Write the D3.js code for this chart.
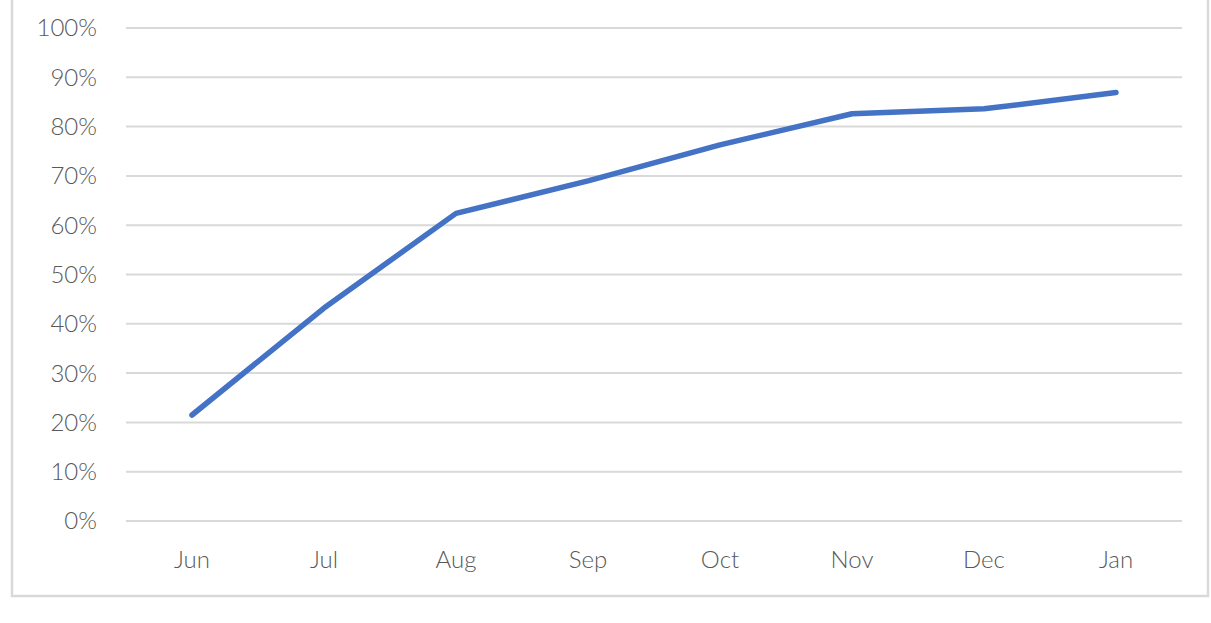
<!DOCTYPE html>
<html>
<head>
<meta charset="utf-8">
<script src="https://cdn.jsdelivr.net/npm/d3@7"></script>
<style>
  body { margin: 0; background: #fff; }
  text { font-family: Lato, "Open Sans", sans-serif; fill: #595959; font-weight: 300; }
</style>
</head>
<body>
<svg id="chart" width="1211" height="623"></svg>
<script>
const months = ["Jun", "Jul", "Aug", "Sep", "Oct", "Nov", "Dec", "Jan"];
const values = [0.215, 0.432, 0.624, 0.690, 0.763, 0.826, 0.836, 0.869];
const yTicks = [0, 0.1, 0.2, 0.3, 0.4, 0.5, 0.6, 0.7, 0.8, 0.9, 1.0];

const width = 1211;
const height = 623;
const margin = { top: 28, right: 29, bottom: 102, left: 126 };

const svg = d3.select("#chart");

// chart frame
svg.append("rect")
  .attr("x", 12)
  .attr("y", -10)
  .attr("width", 1196)
  .attr("height", 606)
  .attr("fill", "#fff")
  .attr("stroke", "#d9d9d9")
  .attr("stroke-width", 2.5);

const x = d3.scaleBand()
  .domain(months)
  .range([margin.left, width - margin.right]);

const y = d3.scaleLinear()
  .domain([0, 1])
  .range([height - margin.bottom, margin.top]);

// gridlines
svg.append("g")
  .selectAll("line")
  .data(yTicks)
  .join("line")
  .attr("x1", margin.left)
  .attr("x2", width - margin.right)
  .attr("y1", d => y(d))
  .attr("y2", d => y(d))
  .attr("stroke", "#d9d9d9")
  .attr("stroke-width", 2);

// y labels
svg.append("g")
  .selectAll("text")
  .data(yTicks)
  .join("text")
  .attr("x", 97)
  .attr("y", d => y(d))
  .attr("dy", "0.35em")
  .attr("text-anchor", "end")
  .attr("font-size", 24)
  .text(d => d3.format(".0%")(d));

// x labels
svg.append("g")
  .selectAll("text")
  .data(months)
  .join("text")
  .attr("x", d => x(d) + x.bandwidth() / 2)
  .attr("y", 560)
  .attr("dy", "0.35em")
  .attr("text-anchor", "middle")
  .attr("font-size", 24)
  .text(d => d);

// line
const line = d3.line()
  .x((d, i) => x(months[i]) + x.bandwidth() / 2)
  .y(d => y(d));

svg.append("path")
  .datum(values)
  .attr("d", line)
  .attr("fill", "none")
  .attr("stroke", "#4472c4")
  .attr("stroke-width", 5.5)
  .attr("stroke-linecap", "round")
  .attr("stroke-linejoin", "round");
</script>
</body>
</html>
